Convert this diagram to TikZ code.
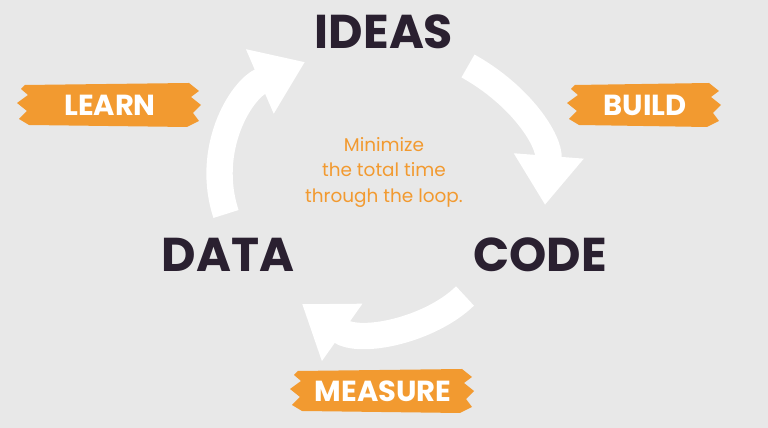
\documentclass[tikz,border=0pt]{standalone}
\usepackage{fontspec}
\setmainfont{Poppins}
\usetikzlibrary{arrows.meta}
\definecolor{bgrey}{HTML}{E8E8E8}
\definecolor{ink}{HTML}{2A2030}
\definecolor{brush}{HTML}{F29A30}
\tikzset{
  stage/.style={text=ink,font=\fontsize{27}{30}\selectfont\bfseries},
  tag/.style={text=white,font=\fontsize{16.5}{18}\selectfont\bfseries},
  loop/.style={white,line width=15pt,-{Triangle[length=28pt,width=38pt]}}
}
% brush stroke behind a tag
\newcommand{\brushbar}[3]{%
  \fill[brush] (#1-#3/2,#2-20) -- (#1+#3/2-6,#2-22) -- (#1+#3/2+4,#2-14) -- (#1+#3/2-4,#2-8)
    -- (#1+#3/2+6,#2) -- (#1+#3/2-2,#2+8) -- (#1+#3/2+4,#2+16) -- (#1+#3/2-8,#2+22)
    -- (#1-#3/2+4,#2+20) -- (#1-#3/2-6,#2+14) -- (#1-#3/2+2,#2+6) -- (#1-#3/2-8,#2-2)
    -- (#1-#3/2+3,#2-10) -- (#1-#3/2-4,#2-16) -- cycle;}
\begin{document}
\begin{tikzpicture}[x=0.02cm,y=-0.02cm]
  \fill[bgrey] (0,0) rectangle (768,428);
  \useasboundingbox (0,0) rectangle (768,428);
  % loop arrows
  \coordinate (a1s) at (468,66);
  \coordinate (a1e) at (545,205);
  \coordinate (a2s) at (465,296);
  \coordinate (a2e) at (302,304);
  \coordinate (a3s) at (226,214);
  \coordinate (a3e) at (305,62);
  \draw[loop] (a1s) .. controls (520,95) and (550,140) .. (a1e);
  \draw[loop] (a2s) .. controls (430,330) and (360,345) .. (a2e);
  \draw[loop] (a3s) .. controls (205,150) and (240,90) .. (a3e);
  % stages
  \node[stage] (ideas) at (384,32) {IDEAS};
  \node[stage] (data) at (228,255) {DATA};
  \node[stage] (code) at (540,255) {CODE};
  % tags
  \brushbar{110}{105}{170}
  \brushbar{645}{105}{140}
  \brushbar{383}{391}{170}
  \node[tag] (learn) at (110,105) {LEARN};
  \node[tag] (build) at (645,105) {BUILD};
  \node[tag] (measure) at (383,391) {MEASURE};
  \node[text=brush,align=center,font=\fontsize{10.5}{14.5}\selectfont] (goal) at (384,172)
    {Minimize\\the total time\\through the loop.};
\end{tikzpicture}
\end{document}
